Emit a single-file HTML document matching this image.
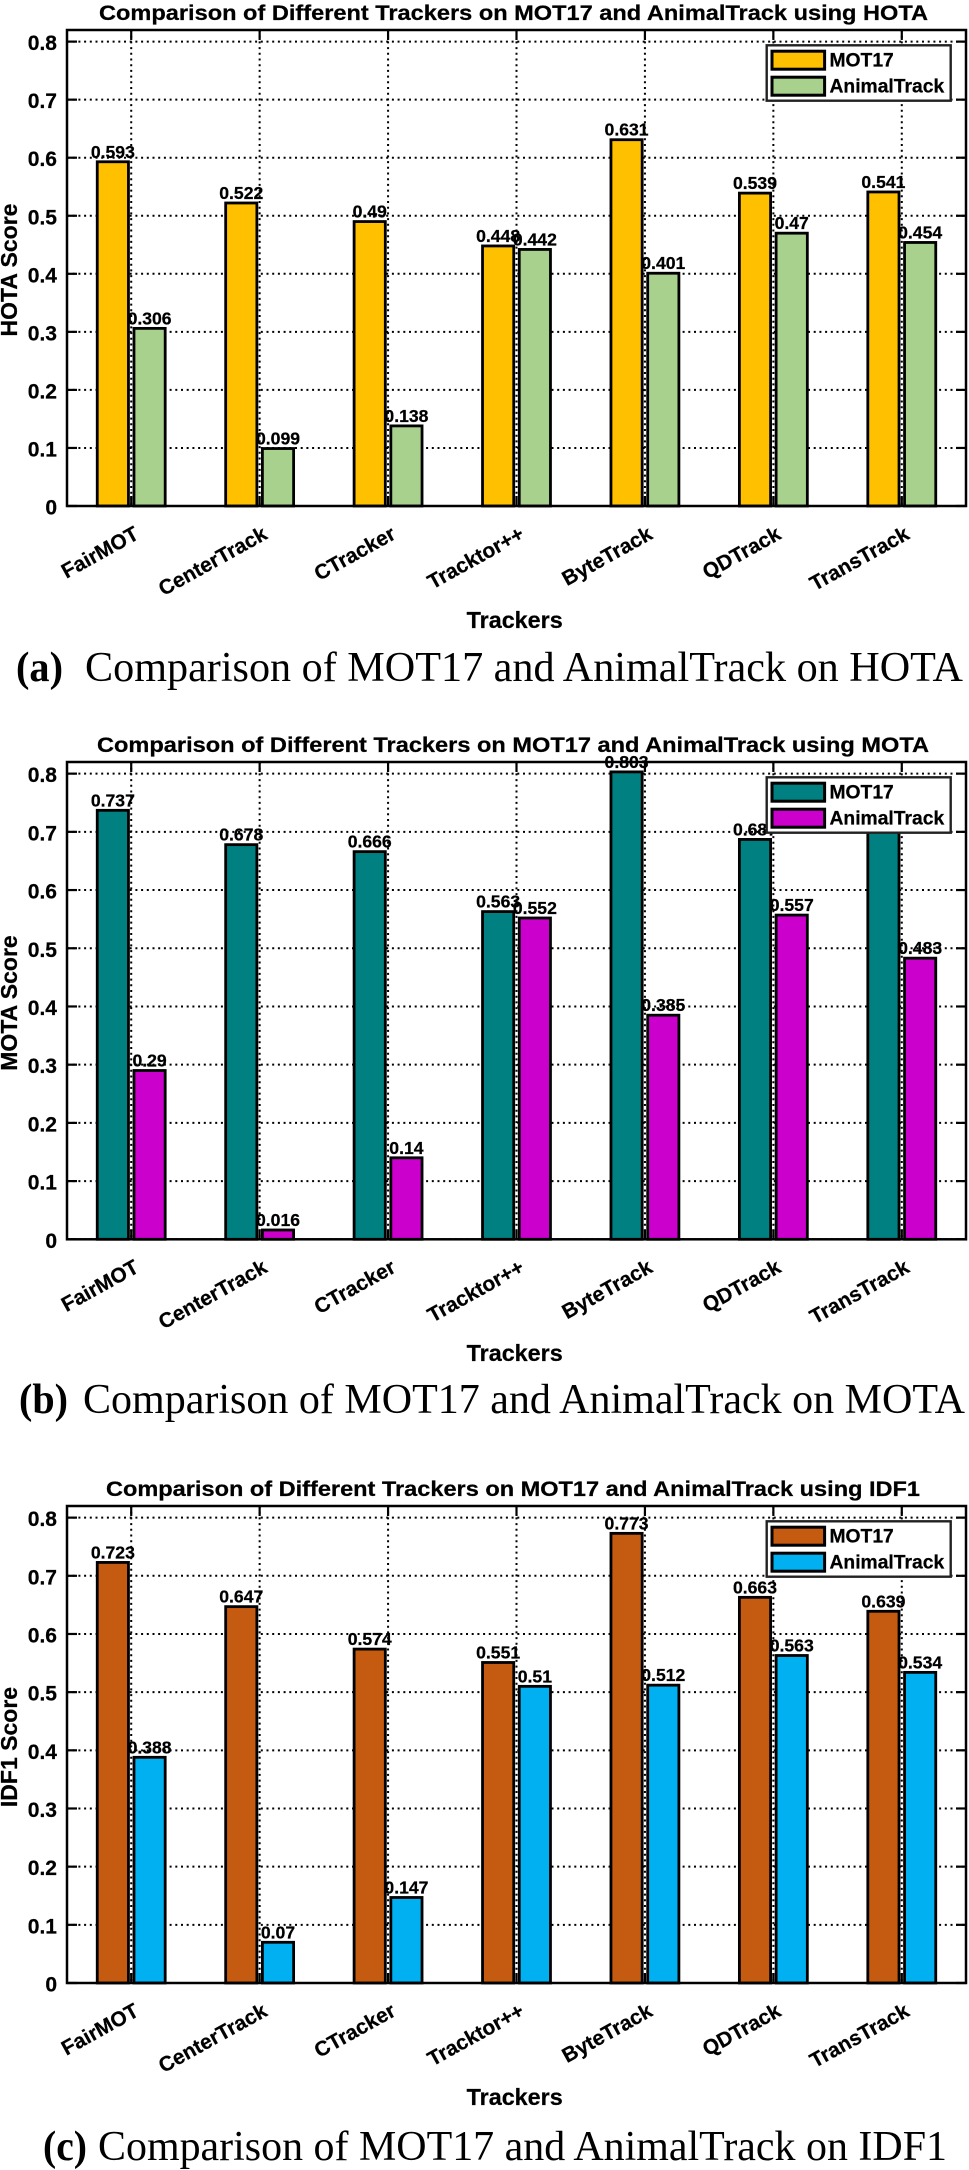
<!DOCTYPE html>
<html lang="en">
<head>
<meta charset="utf-8">
<title>Comparison of MOT17 and AnimalTrack</title>
<style>
html,body{margin:0;padding:0;background:#fff;}
svg{display:block;}
text{font-family:"Liberation Sans",sans-serif;font-weight:bold;fill:#000;stroke:#000;stroke-width:0.25px;}
text.cap{font-family:"Liberation Serif",serif;font-weight:normal;font-size:42px;stroke:none;}
text.capb{font-family:"Liberation Serif",serif;font-weight:bold;font-size:42px;stroke:none;}
text.title{font-size:21px;}
text.axis-label{font-size:23px;}
</style>
</head>
<body>
<svg id="fig" xmlns="http://www.w3.org/2000/svg" width="969" height="2170" viewBox="0 0 969 2170">
  <rect x="0" y="0" width="969" height="2170" fill="#fff"/>
  <g id="chart-a"></g>
  <g id="chart-b"></g>
  <g id="chart-c"></g>

  <text class="title" x="99" y="20" textLength="829" lengthAdjust="spacingAndGlyphs">Comparison of Different Trackers on MOT17 and AnimalTrack using HOTA</text>
  <text class="axis-label" transform="translate(17 270) rotate(-90)" text-anchor="middle">HOTA Score</text>
  <text class="axis-label" x="514.7" y="628" text-anchor="middle" textLength="96" lengthAdjust="spacingAndGlyphs">Trackers</text>
  <text class="capb" x="16" y="681" textLength="47" lengthAdjust="spacingAndGlyphs">(a)</text>
  <text class="cap" x="85" y="681" textLength="878" lengthAdjust="spacingAndGlyphs">Comparison of MOT17 and AnimalTrack on HOTA</text>

  <text class="title" x="97" y="752" textLength="832" lengthAdjust="spacingAndGlyphs">Comparison of Different Trackers on MOT17 and AnimalTrack using MOTA</text>
  <text class="axis-label" transform="translate(17 1003) rotate(-90)" text-anchor="middle">MOTA Score</text>
  <text class="axis-label" x="514.7" y="1361" text-anchor="middle" textLength="96" lengthAdjust="spacingAndGlyphs">Trackers</text>
  <text class="capb" x="19" y="1413" textLength="49" lengthAdjust="spacingAndGlyphs">(b)</text>
  <text class="cap" x="83" y="1413" textLength="882" lengthAdjust="spacingAndGlyphs">Comparison of MOT17 and AnimalTrack on MOTA</text>

  <text class="title" x="106" y="1496" textLength="814" lengthAdjust="spacingAndGlyphs">Comparison of Different Trackers on MOT17 and AnimalTrack using IDF1</text>
  <text class="axis-label" transform="translate(17 1747) rotate(-90)" text-anchor="middle">IDF1 Score</text>
  <text class="axis-label" x="514.7" y="2105" text-anchor="middle" textLength="96" lengthAdjust="spacingAndGlyphs">Trackers</text>
  <text class="capb" x="43" y="2160" textLength="44" lengthAdjust="spacingAndGlyphs">(c)</text>
  <text class="cap" x="98" y="2160" textLength="849" lengthAdjust="spacingAndGlyphs">Comparison of MOT17 and AnimalTrack on IDF1</text>
</svg>
<script>
var categories = ['FairMOT', 'CenterTrack', 'CTracker', 'Tracktor++', 'ByteTrack', 'QDTrack', 'TransTrack'];
var seriesNames = ['MOT17', 'AnimalTrack'];
var yTickValues = [0, 0.1, 0.2, 0.3, 0.4, 0.5, 0.6, 0.7, 0.8];
var yTickLabels = ['0', '0.1', '0.2', '0.3', '0.4', '0.5', '0.6', '0.7', '0.8'];

var hotaMot17 = [0.593, 0.522, 0.49, 0.448, 0.631, 0.539, 0.541];
var hotaAnimalTrack = [0.306, 0.099, 0.138, 0.442, 0.401, 0.47, 0.454];
var motaMot17 = [0.737, 0.678, 0.666, 0.563, 0.803, 0.687, 0.72];
var motaAnimalTrack = [0.29, 0.016, 0.14, 0.552, 0.385, 0.557, 0.483];
var idf1Mot17 = [0.723, 0.647, 0.574, 0.551, 0.773, 0.663, 0.639];
var idf1AnimalTrack = [0.388, 0.07, 0.147, 0.51, 0.512, 0.563, 0.534];

var Y_MIN = 0, Y_MAX = 0.82, X_MIN = 0.5, X_MAX = 7.5;
var PLOT_LEFT = 67, PLOT_RIGHT = 966;
var BAR_WIDTH_UNITS = 0.243, BAR_OFFSET_UNITS = 0.143;
var NS = 'http://www.w3.org/2000/svg';

function make(parent, tag, attrs) {
  var el = document.createElementNS(NS, tag);
  for (var k in attrs) { el.setAttribute(k, attrs[k]); }
  parent.appendChild(el);
  return el;
}
function xScale(v) {
  return PLOT_LEFT + (v - X_MIN) / (X_MAX - X_MIN) * (PLOT_RIGHT - PLOT_LEFT);
}
function yScaleFor(top, bottom) {
  return function (v) { return bottom - (v - Y_MIN) / (Y_MAX - Y_MIN) * (bottom - top); };
}

function drawChart(rootId, prefix, top, bottom, series, colors) {
  var root = document.getElementById(rootId);
  var y = yScaleFor(top, bottom);
  var i, s, el;

  // grid
  for (i = 0; i < yTickValues.length; i++) {
    el = make(root, 'line', {x1: PLOT_LEFT, x2: PLOT_RIGHT, y1: y(yTickValues[i]), y2: y(yTickValues[i]), stroke: '#000', 'stroke-width': 2, 'stroke-dasharray': '2 3.7'});
    
    
  }
  for (i = 0; i < categories.length; i++) {
    el = make(root, 'line', {x1: xScale(i + 1), x2: xScale(i + 1), y1: top, y2: bottom, stroke: '#000', 'stroke-width': 2, 'stroke-dasharray': '2 3.7'});
    
    
  }

  // bars
  for (s = 0; s < series.length; s++) {
    for (i = 0; i < categories.length; i++) {
      var center = xScale(i + 1 + (s === 0 ? -BAR_OFFSET_UNITS : BAR_OFFSET_UNITS));
      var w = xScale(1 + BAR_WIDTH_UNITS) - xScale(1);
      el = make(root, 'rect', {x: center - w / 2, y: y(series[s][i]), width: w, height: bottom - y(series[s][i]), fill: colors[s], stroke: '#000', 'stroke-width': 2.8});
      
      
    }
  }

  // axes box
  el = make(root, 'rect', {x: PLOT_LEFT, y: top, width: PLOT_RIGHT - PLOT_LEFT, height: bottom - top, fill: 'none', stroke: '#000', 'stroke-width': 2.5});
  
  

  // ticks and tick labels
  for (i = 0; i < yTickValues.length; i++) {
    var ty = y(yTickValues[i]);
    el = make(root, 'line', {x1: PLOT_LEFT, x2: PLOT_LEFT + 10, y1: ty, y2: ty, stroke: '#000', 'stroke-width': 2.2});
    
    
    el = make(root, 'line', {x1: PLOT_RIGHT - 10, x2: PLOT_RIGHT, y1: ty, y2: ty, stroke: '#000', 'stroke-width': 2.2});
    
    
    el = make(root, 'text', {x: 57, y: ty + 8.5, 'text-anchor': 'end', 'font-size': 21});
    el.textContent = yTickLabels[i];
    
    
  }
  for (i = 0; i < categories.length; i++) {
    var tx = xScale(i + 1);
    el = make(root, 'line', {x1: tx, x2: tx, y1: top, y2: top + 10, stroke: '#000', 'stroke-width': 2.2});
    
    
    el = make(root, 'line', {x1: tx, x2: tx, y1: bottom - 10, y2: bottom, stroke: '#000', 'stroke-width': 2.2});
    
    
    el = make(root, 'text', {transform: 'translate(' + (tx + 9) + ' ' + (bottom + 32) + ') rotate(-29)', 'text-anchor': 'end', 'font-size': 20.8});
    el.textContent = categories[i];
    
    
  }

  // value labels
  for (s = 0; s < series.length; s++) {
    for (i = 0; i < categories.length; i++) {
      var cx = xScale(i + 1 + (s === 0 ? -BAR_OFFSET_UNITS : BAR_OFFSET_UNITS));
      el = make(root, 'text', {x: cx, y: y(series[s][i]) - 4, 'text-anchor': 'middle', 'font-size': 17.6});
      el.textContent = String(series[s][i]);
      
      
    }
  }

  // legend
  var ly = top + 14.3;
  el = make(root, 'rect', {x: 766.7, y: ly + 1, width: 184, height: 55.4, fill: '#fff', stroke: '#222', 'stroke-width': 2.4});
  
  
  var swY = [ly + 6.9, ly + 32.9];
  var txtY = [ly + 22.4, ly + 48.4];
  for (s = 0; s < series.length; s++) {
    el = make(root, 'rect', {x: 772, y: swY[s], width: 52.6, height: 18, fill: colors[s], stroke: '#000', 'stroke-width': 3});
    
    
    el = make(root, 'text', {x: 829.5, y: txtY[s], 'font-size': 19.3});
    el.textContent = seriesNames[s];
    
    
  }
}

drawChart('chart-a', 'hota', 30, 506, [hotaMot17, hotaAnimalTrack], ['#FFC000', '#A9D18E']);
drawChart('chart-b', 'mota', 762, 1239.3, [motaMot17, motaAnimalTrack], ['#008080', '#CC00CC']);
drawChart('chart-c', 'idf1', 1506, 1983, [idf1Mot17, idf1AnimalTrack], ['#C55A11', '#00B0F0']);
</script>
</body>
</html>
